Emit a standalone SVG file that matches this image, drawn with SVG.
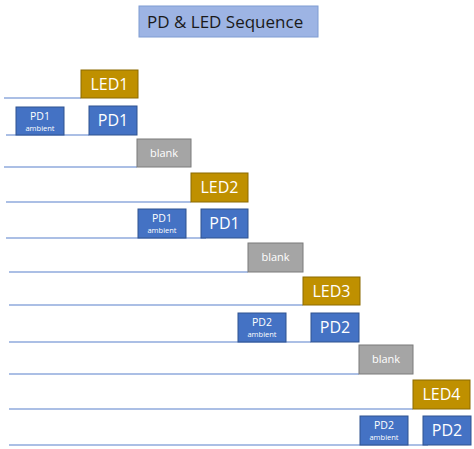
<svg xmlns="http://www.w3.org/2000/svg" width="474" height="449" viewBox="0 0 474 449">
<style>
.t{font-family:"Open Sans","Liberation Sans",sans-serif;fill:#fff;text-anchor:middle}
.led{fill:#BF9000;stroke:#8C6A00;stroke-width:1}
.pd{fill:#4472C4;stroke:#2F528F;stroke-width:1}
.bl{fill:#A5A5A5;stroke:#7B7B7B;stroke-width:1}
.big{font-size:16px}
.sm{font-size:10.5px}
.xs{font-size:7.5px}
.bk{font-size:11px}
.ln{stroke:#8FAADC;stroke-width:1.5;fill:none}
</style>
<rect width="474" height="449" fill="#fff"/>
<g id="title">
<rect x="139" y="6" width="179" height="31" fill="#9DB4E4" stroke="#7F9CD2" stroke-width="1"/>
<text x="147" y="28" font-family="Open Sans, Liberation Sans, sans-serif" font-size="17" fill="#1a1a1a">PD &amp; LED Sequence</text>
</g>
<g id="connectors">
<line class="ln" x1="4" y1="98" x2="81" y2="98"/>
<line class="ln" x1="6" y1="135" x2="89" y2="135"/>
<line class="ln" x1="4" y1="167" x2="137" y2="167"/>
<line class="ln" x1="6" y1="202" x2="191" y2="202"/>
<line class="ln" x1="6" y1="238" x2="206" y2="238"/>
<line class="ln" x1="9" y1="272" x2="248" y2="272"/>
<line class="ln" x1="9" y1="305" x2="303" y2="305"/>
<line class="ln" x1="9" y1="342" x2="311" y2="342"/>
<line class="ln" x1="9" y1="374" x2="359" y2="374"/>
<line class="ln" x1="9" y1="409" x2="413" y2="409"/>
<line class="ln" x1="9" y1="445" x2="428" y2="445"/>
</g>
<g id="led1"><rect class="led" x="81" y="70" width="57" height="28"/><text class="t big" x="109.5" y="90">LED1</text></g>
<g id="pd1amb1"><rect class="pd" x="16" y="107" width="48" height="28"/><text class="t sm" x="40" y="120">PD1</text><text class="t xs" x="40" y="131">ambient</text></g>
<g id="pd1a"><rect class="pd" x="89" y="106" width="48" height="29"/><text class="t big" x="113" y="126">PD1</text></g>
<g id="blank1"><rect class="bl" x="137" y="139" width="54" height="28"/><text class="t bk" x="164" y="157">blank</text></g>
<g id="led2"><rect class="led" x="191" y="173" width="57" height="29"/><text class="t big" x="219.5" y="193">LED2</text></g>
<g id="pd1amb2"><rect class="pd" x="138" y="209" width="48" height="29"/><text class="t sm" x="162" y="222">PD1</text><text class="t xs" x="162" y="233">ambient</text></g>
<g id="pd1b"><rect class="pd" x="201" y="209" width="47" height="29"/><text class="t big" x="224.5" y="229">PD1</text></g>
<g id="blank2"><rect class="bl" x="248" y="243" width="55" height="29"/><text class="t bk" x="275.5" y="261">blank</text></g>
<g id="led3"><rect class="led" x="303" y="277" width="57" height="28"/><text class="t big" x="331.5" y="297">LED3</text></g>
<g id="pd2amb1"><rect class="pd" x="238" y="313" width="48" height="29"/><text class="t sm" x="262" y="326">PD2</text><text class="t xs" x="262" y="337">ambient</text></g>
<g id="pd2a"><rect class="pd" x="311" y="313" width="48" height="29"/><text class="t big" x="335" y="333">PD2</text></g>
<g id="blank3"><rect class="bl" x="359" y="345" width="54" height="29"/><text class="t bk" x="386" y="363">blank</text></g>
<g id="led4"><rect class="led" x="413" y="380" width="57" height="29"/><text class="t big" x="441.5" y="400">LED4</text></g>
<g id="pd2amb2"><rect class="pd" x="360" y="416" width="48" height="29"/><text class="t sm" x="384" y="429">PD2</text><text class="t xs" x="384" y="440">ambient</text></g>
<g id="pd2b"><rect class="pd" x="423" y="416" width="48" height="29"/><text class="t big" x="447" y="436">PD2</text></g>
</svg>
